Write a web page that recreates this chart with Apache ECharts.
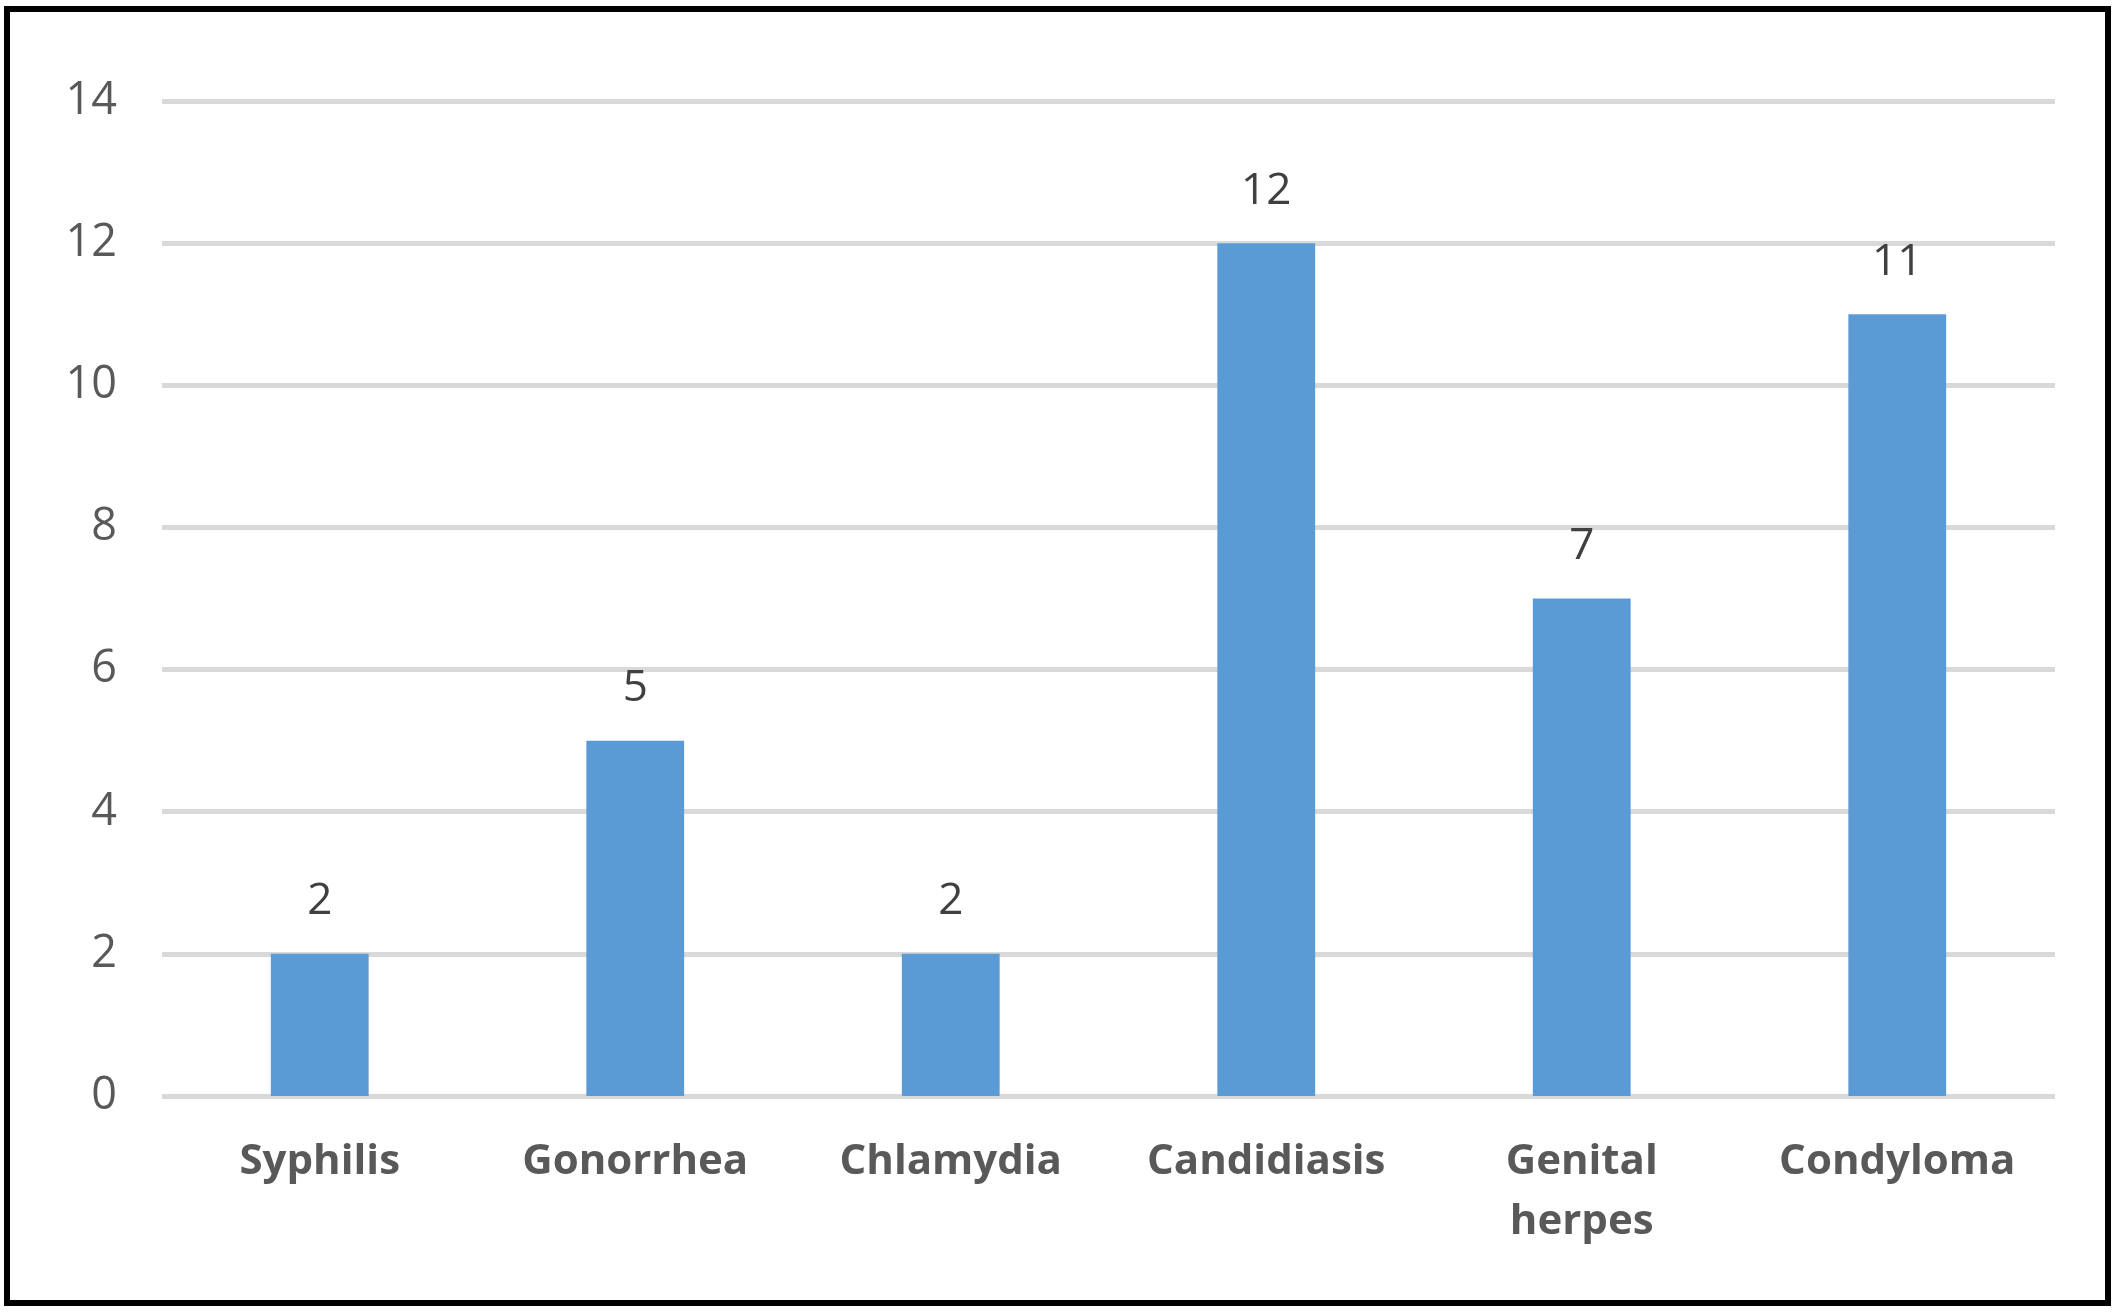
<!DOCTYPE html>
<html><head><meta charset="utf-8">
<script src="https://cdn.jsdelivr.net/npm/echarts@6/dist/echarts.min.js"></script>
<style>html,body{margin:0;padding:0;background:#fff}#c{width:2117px;height:1312px}</style>
</head><body><div id="c"></div>
<script>
const categories = ['Syphilis', 'Gonorrhea', 'Chlamydia', 'Candidiasis', 'Genital\nherpes', 'Condyloma'];
const values = [2, 5, 2, 12, 7, 11];
const yTicks = [0, 2, 4, 6, 8, 10, 12, 14];

const chart = echarts.init(document.getElementById('c'));
chart.setOption({
  animation: false,
  backgroundColor: '#ffffff',
  graphic: [{
    type: 'rect', silent: true, z: 100,
    shape: { x: 7, y: 9, width: 2101, height: 1294 },
    style: { fill: 'none', stroke: '#000', lineWidth: 6 }
  }],
  grid: { left: 162, right: 62, top: 101, bottom: 216, containLabel: false },
  xAxis: {
    type: 'category', data: categories,
    axisLine: { show: false }, axisTick: { show: false },
    axisLabel: { color: '#595959', fontFamily: 'Open Sans', fontWeight: 'bold', fontSize: 42, lineHeight: 60, margin: 36, interval: 0 }
  },
  yAxis: {
    type: 'value', min: yTicks[0], max: yTicks[yTicks.length - 1], interval: 2,
    axisLine: { show: false }, axisTick: { show: false },
    axisLabel: { color: '#595959', fontFamily: 'Open Sans', fontSize: 45, margin: 45 },
    splitLine: { lineStyle: { color: '#D9D9D9', width: 5 } }
  },
  series: [{
    type: 'bar', data: values, barWidth: '31%',
    itemStyle: { color: '#5B9BD5' },
    label: { show: true, position: 'top', distance: 30, color: '#404040', fontFamily: 'Open Sans', fontSize: 44 }
  }]
});
</script></body></html>
